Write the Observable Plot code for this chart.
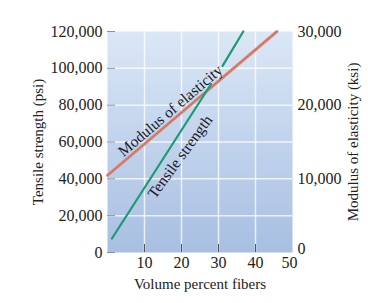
<!DOCTYPE html>
<html>
<head>
<meta charset="utf-8">
<script src="https://cdn.jsdelivr.net/npm/d3@7"></script>
<script src="https://cdn.jsdelivr.net/npm/@observablehq/plot@0.6"></script>
<style>
  html, body { margin: 0; padding: 0; background: #fff; }
  #chart svg { display: block; }
</style>
</head>
<body>
<div id="chart"></div>
<script>
// Volume percent fibers vs tensile strength (psi), line broken where a label crosses it
const tensileX = [1.2, 28.0, 31.1, 36.7];
const tensilePsi = [7600, 91500, 101300, 120000];
const tensileSeg = ["a", "a", "b", "b"];

// Modulus of elasticity (ksi), right axis
const modulusX = [0, 45.8];
const modulusKsi = [10480, 30000];

// Tick labels
const xTicks = [10, 20, 30, 40, 50];
const leftTicks = [0, 20000, 40000, 60000, 80000, 100000, 120000];
const rightTicksKsi = [0, 10000, 20000, 30000];

// Curve labels
const labelText = ["Modulus of elasticity", "Tensile strength"];
const labelX = [17.0, 19.6];
const labelPsi = [77000, 52000];
const labelAngle = [-40.5, -54];

const psiPerKsi = 4;

const tensile = tensileX.map((x, i) => ({x, y: tensilePsi[i], seg: tensileSeg[i]}));
const modulus = modulusX.map((x, i) => ({x, y: modulusKsi[i] * psiPerKsi}));
const labels = labelText.map((t, i) => ({t, x: labelX[i], y: labelPsi[i], r: labelAngle[i]}));

const fmt = d3.format(",");
const serif = "'Liberation Serif', 'DejaVu Serif', serif";

const chart = Plot.plot({
  width: 368,
  height: 303,
  marginLeft: 107,
  marginRight: 76,
  marginTop: 31,
  marginBottom: 51,
  style: {fontFamily: serif, fontSize: "15px", color: "#222", background: "#fff"},
  x: {domain: [0, 50]},
  y: {domain: [0, 120000]},
  marks: [
    Plot.frame({fill: "url(#bgGrad)", stroke: "none"}),
    Plot.gridX(xTicks.filter(d => d < 50), {stroke: "#fff", strokeOpacity: 0.75, strokeWidth: 1.5}),
    Plot.gridY(leftTicks.filter(d => d > 0 && d < 120000), {stroke: "#fff", strokeOpacity: 0.75, strokeWidth: 1.5}),
    Plot.ruleY([120000], {stroke: "url(#topGrad)", strokeWidth: 2.5, insetRight: -4}),
    Plot.axisY(leftTicks, {anchor: "left", tickSize: -8, tickPadding: 13, stroke: "#8a8f99", tickFormat: fmt, label: null, fontSize: 16}),
    Plot.axisY(rightTicksKsi.filter(d => d > 0).map(d => d * psiPerKsi), {anchor: "right", tickSize: 0, tickPadding: 5, tickFormat: d => fmt(d / psiPerKsi), label: null, fontSize: 16}),
    Plot.axisY(rightTicksKsi.filter(d => d === 0).map(d => d * psiPerKsi), {anchor: "right", tickSize: 0, tickPadding: 5, dy: -4, tickFormat: d => fmt(d / psiPerKsi), label: null, fontSize: 16}),
    Plot.axisX(xTicks.filter(d => d < 50), {anchor: "bottom", tickSize: -8, tickPadding: 12, stroke: "#555", label: null, fontSize: 16}),
    Plot.axisX(xTicks.filter(d => d === 50), {anchor: "bottom", tickSize: 0, tickPadding: 4, dx: -3, label: null, fontSize: 16}),
    Plot.line(modulus, {x: "x", y: "y", stroke: "#d98a76", strokeWidth: 3}),
    Plot.line(modulus, {x: "x", y: "y", stroke: "#c4473b", strokeWidth: 1, strokeDasharray: "1.5,1.5", strokeOpacity: 0.7}),
    Plot.line(tensile, {x: "x", y: "y", z: "seg", stroke: "#1b9a74", strokeWidth: 2.2}),
    Plot.text(labels, {x: "x", y: "y", text: "t", rotate: "r", fontSize: 15.5, fill: "#1a1a2a"}),
    Plot.text(["Tensile strength (psi)"], {frameAnchor: "left", textAnchor: "middle", dx: -69, rotate: -90, fontSize: 15, fill: "#222"}),
    Plot.text(["Modulus of elasticity (ksi)"], {frameAnchor: "right", textAnchor: "middle", dx: 61, rotate: -90, fontSize: 15, fill: "#222"}),
    Plot.text(["Volume percent fibers"], {frameAnchor: "bottom", dy: 36, fontSize: 15, fill: "#222"})
  ]
});

const defs = d3.select(chart).insert("defs", ":first-child");
const bg = defs.append("linearGradient").attr("id", "bgGrad").attr("x1", 0).attr("y1", 0).attr("x2", 0).attr("y2", 1);
bg.append("stop").attr("offset", "0%").attr("stop-color", "#dae7f6");
bg.append("stop").attr("offset", "100%").attr("stop-color", "#a8bfe2");
const tg = defs.append("linearGradient").attr("id", "topGrad").attr("x1", 0).attr("y1", 0).attr("x2", 1).attr("y2", 0);
tg.append("stop").attr("offset", "0%").attr("stop-color", "#a0a4aa");
tg.append("stop").attr("offset", "100%").attr("stop-color", "#111");

document.getElementById("chart").append(chart);
</script>
</body>
</html>
